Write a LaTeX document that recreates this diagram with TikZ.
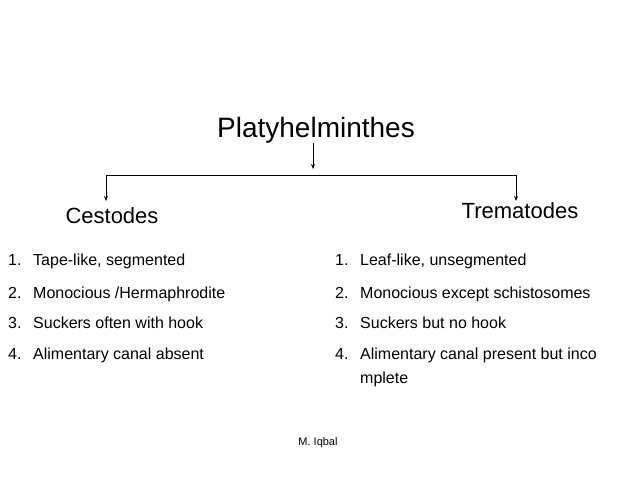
\documentclass[tikz,border=0pt]{standalone}
\usepackage{fontspec}
\setmainfont{Liberation Sans}
\usetikzlibrary{arrows.meta}
\begin{document}
\begin{tikzpicture}[x=1pt,y=-1pt,
  item/.style={anchor=base west,inner sep=0,font=\fontsize{16}{19}\selectfont},
  line/.style={draw,line width=0.8pt},
  conn/.style={line,-{Stealth[length=5pt,width=4pt]}}]
\useasboundingbox (0,0) rectangle (638,478);
\node[anchor=base,inner sep=0,font=\fontsize{28}{32}\selectfont] (top) at (316,138) {Platyhelminthes};
\node[anchor=base,inner sep=0,font=\fontsize{22}{26}\selectfont] (ces) at (112,224) {Cestodes};
\node[anchor=base,inner sep=0,font=\fontsize{22}{26}\selectfont] (tre) at (520,219) {Trematodes};
\coordinate (a) at (313,143);
\coordinate (b) at (313,169);
\coordinate (l) at (106,175);
\coordinate (r) at (516,175);
\coordinate (le) at (106,201);
\coordinate (re) at (516,201);
\draw[conn] (a) -- (b);
\draw[line] (l) -- (r);
\draw[conn] (l) -- (le);
\draw[conn] (r) -- (re);
\node[item] (ln1) at (8,266) {1.};
\node[item] (lt1) at (33,266) {Tape-like, segmented};
\node[item] (ln2) at (8,299) {2.};
\node[item] (lt2) at (33,299) {Monocious /Hermaphrodite};
\node[item] (ln3) at (8,329) {3.};
\node[item] (lt3) at (33,329) {Suckers often with hook};
\node[item] (ln4) at (8,360) {4.};
\node[item] (lt4) at (33,360) {Alimentary canal absent};
\node[item] (rn1) at (335,266) {1.};
\node[item] (rt1) at (360,266) {Leaf-like, unsegmented};
\node[item] (rn2) at (335,299) {2.};
\node[item] (rt2) at (360,299) {Monocious except schistosomes};
\node[item] (rn3) at (335,329) {3.};
\node[item] (rt3) at (360,329) {Suckers but no hook};
\node[item] (rn4) at (335,360) {4.};
\node[item] (rt4) at (360,360) {Alimentary canal present but inco};
\node[item] (rt5) at (360,384) {mplete};
\node[anchor=base,inner sep=0,font=\fontsize{11}{13}\selectfont] (auth) at (318,446) {M. Iqbal};
\end{tikzpicture}
\end{document}
